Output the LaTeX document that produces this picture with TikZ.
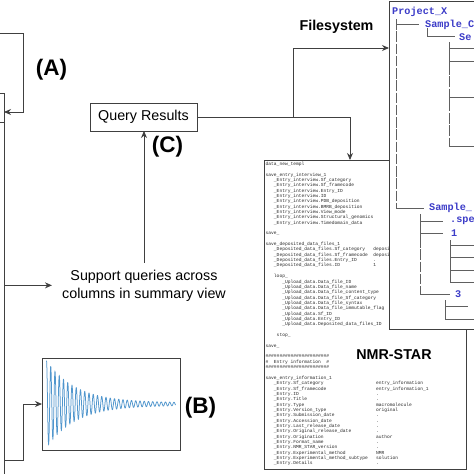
\documentclass[tikz,border=0pt]{standalone}
\usepackage{fontspec}
\setmainfont{Liberation Sans}
\newfontfamily\monof{Liberation Mono}
\usetikzlibrary{arrows.meta}
\definecolor{ln}{HTML}{404040}
\definecolor{treeblue}{RGB}{60,60,200}
\definecolor{treeln}{HTML}{606060}
\definecolor{fidblue}{RGB}{80,150,205}
\definecolor{nmrtxt}{HTML}{2A2A2A}
\newlength\cw
\setlength\cw{2.76pt}
\newcommand\ind[1]{\hspace*{#1\cw}}
\newcommand\kv[3]{\makebox[#1\cw][l]{#2}#3}
\newcommand\hashline{\#\#\#\#\#\#\#\#\#\#\#\#\#\#\#\#\#\#\#\#\#\#\#}
\begin{document}
\begin{tikzpicture}[x=1pt,y=-1pt,
  box/.style={draw=ln, line width=1pt, fill=white, inner sep=0pt, outer sep=0pt},
  conn/.style={draw=ln, line width=0.9pt},
  arr/.style={conn, -{Stealth[length=7pt,width=6pt]}},
  lbl/.style={font=\fontsize{22.5}{26}\selectfont\bfseries, inner sep=0pt},
  ttl/.style={font=\fontsize{14.3}{17}\selectfont\bfseries, inner sep=0pt},
  tl/.style={draw=treeln, line width=0.9pt},
  tld/.style={tl, dash pattern=on 10.5pt off 1.75pt},
  treetext/.style={font=\monof\bfseries\fontsize{10.2}{12}\selectfont, text=treeblue, anchor=west, inner sep=0pt},
]
\useasboundingbox (0,0) rectangle (474,474);
\clip (0,0) rectangle (474,474);

% left (cropped) box
\node[box, anchor=north east, minimum width=60pt, minimum height=29pt] (lb) at (4,93) {};

% Query results
\node[box, minimum width=107pt, minimum height=28pt, font=\fontsize{14.3}{17}\selectfont] (qr) at (143.5,117) {Query Results};

% support text
\node[font=\fontsize{14.3}{18}\selectfont, align=center, inner xsep=10pt, inner ysep=7pt, anchor=north] (supp) at (144,262.5) {Support queries across\\columns in summary view};

% FID box
\node[box, minimum width=138pt, minimum height=92pt] (fid) at (111,404) {};
\draw[fidblue, line width=0.75pt] plot[domain=0:129, samples=1600] ({46.5+\x}, {404 - (42*exp(-\x/29)+1.3)*cos(\x*84.706)});

% NMR-STAR box
\node[box, anchor=north west, minimum width=202pt, minimum height=309pt] (nmr) at (264,160) {};
\node[anchor=north west, inner sep=0pt, align=left, text=nmrtxt, font=\monof\fontsize{4.6}{5.35}\selectfont] (nmrt) at (265.5,161.8) {%
data\_new\_templ\\
\mbox{}\\
save\_entry\_interview\_1\\
\ind3\_Entry\_interview.Sf\_category\\
\ind3\_Entry\_interview.Sf\_framecode\\
\ind3\_Entry\_interview.Entry\_ID\\
\ind3\_Entry\_interview.ID\\
\ind3\_Entry\_interview.PDB\_deposition\\
\ind3\_Entry\_interview.BMRB\_deposition\\
\ind3\_Entry\_interview.View\_mode\\
\ind3\_Entry\_interview.Structural\_genomics\\
\ind3\_Entry\_interview.Timedomain\_data\\
\mbox{}\\
save\_\\
\mbox{}\\
save\_deposited\_data\_files\_1\\
\ind3\kv{36}{\_Deposited\_data\_files.Sf\_category}{deposited\_data\_files}\\
\ind3\kv{36}{\_Deposited\_data\_files.Sf\_framecode}{deposited\_data\_files\_1}\\
\ind3\kv{36}{\_Deposited\_data\_files.Entry\_ID}{.}\\
\ind3\kv{36}{\_Deposited\_data\_files.ID}{1}\\
\mbox{}\\
\ind3loop\_\\
\ind6\_Upload\_data.Data\_file\_ID\\
\ind6\_Upload\_data.Data\_file\_name\\
\ind6\_Upload\_data.Data\_file\_content\_type\\
\ind6\_Upload\_data.Data\_file\_Sf\_category\\
\ind6\_Upload\_data.Data\_file\_syntax\\
\ind6\_Upload\_data.Data\_file\_immutable\_flag\\
\ind6\_Upload\_data.Sf\_ID\\
\ind6\_Upload\_data.Entry\_ID\\
\ind6\_Upload\_data.Deposited\_data\_files\_ID\\
\mbox{}\\
\ind4stop\_\\
\mbox{}\\
save\_\\
\mbox{}\\
\hashline\\
\#\ind2Entry information\ind2\#\\
\hashline\\
\mbox{}\\
save\_entry\_information\_1\\
\ind3\kv{37}{\_Entry.Sf\_category}{entry\_information}\\
\ind3\kv{37}{\_Entry.Sf\_framecode}{entry\_information\_1}\\
\ind3\kv{37}{\_Entry.ID}{.}\\
\ind3\kv{37}{\_Entry.Title}{.}\\
\ind3\kv{37}{\_Entry.Type}{macromolecule}\\
\ind3\kv{37}{\_Entry.Version\_type}{original}\\
\ind3\kv{37}{\_Entry.Submission\_date}{.}\\
\ind3\kv{37}{\_Entry.Accession\_date}{.}\\
\ind3\kv{37}{\_Entry.Last\_release\_date}{.}\\
\ind3\kv{37}{\_Entry.Original\_release\_date}{.}\\
\ind3\kv{37}{\_Entry.Origination}{author}\\
\ind3\kv{37}{\_Entry.Format\_name}{.}\\
\ind3\kv{37}{\_Entry.NMR\_STAR\_version}{.}\\
\ind3\kv{37}{\_Entry.Experimental\_method}{NMR}\\
\ind3\kv{37}{\_Entry.Experimental\_method\_subtype}{solution}\\
\ind3\kv{37}{\_Entry.Details}{.}};
\node[ttl] (lnmr) at (394,354.5) {NMR-STAR};

% Filesystem box
\node[box, anchor=north west, minimum width=150pt, minimum height=328pt] (fs) at (389,1) {};
\node[treetext] (p0) at (392,12) {Project\_X};
\node[treetext] (p1) at (425,24.5) {Sample\_C};
\node[treetext] (p2) at (459,37) {Se};
\node[treetext] (p3) at (429,208) {Sample\_};
\node[treetext] (p4) at (450,220.5) {.spe};
\node[treetext] (p5) at (451,233) {1};
\node[treetext] (p6) at (455,294.5) {3};
% tree lines
\draw[tld] (396,19) -- (396,208);
\draw[tl] (396,20) -- (396,30);
\draw[tl] (396,24.5) -- (419,24.5);
\draw[tl] (396,208) -- (424,208);
\draw[tl] (427,28) -- (427,36.5) -- (455,36.5);
\draw[tl] (449,42) -- (449,64);
\draw[tld] (449,64) -- (449,146.5);
\draw[tl] (449,93) -- (449,101);
\draw[tl] (449,140) -- (449,146.5);
\draw[tl] (449,48.5) -- (480,48.5);
\draw[tl] (449,61) -- (480,61);
\draw[tl] (449,97.5) -- (480,97.5);
\draw[tl] (449,146.5) -- (480,146.5);
\draw[tl] (420,214) -- (420,237);
\draw[tld] (420,237) -- (420,294.5);
\draw[tl] (420,288) -- (420,294.5);
\draw[tl] (420,221) -- (443,221);
\draw[tl] (420,233) -- (443,233);
\draw[tl] (420,294.5) -- (450,294.5);
\draw[tl] (450,240) -- (450,282.5);
\draw[tl] (450,245.5) -- (480,245.5);
\draw[tl] (450,257.5) -- (480,257.5);
\draw[tl] (450,270) -- (480,270);
\draw[tl] (450,282.5) -- (480,282.5);
\draw[tl] (445,300) -- (445,319);
\draw[tl] (445,306.5) -- (468,306.5);
\draw[tl] (445,319) -- (480,319);

% labels
\node[ttl] (lfs) at (336.5,26.5) {Filesystem};
\node[lbl] (la) at (51.5,69.5) {(A)};
\node[lbl] (lc) at (167.5,147) {(C)};
\node[lbl] (lbb) at (200.5,407.5) {(B)};

% connectors
\coordinate (a0) at (-2,33);
\coordinate (ain) at (4,112);
\draw[arr] (a0) -| ([xshift=19pt]ain) -- (ain);
\coordinate (bot) at (4,480);
\draw[conn] (lb.south east) -- (bot);
\draw[arr] (lb.south east |- supp.west) -- (supp.west);
\coordinate (b1) at (4,460);
\draw[arr] (b1) -- ++(19,0) |- (fid.west);
\draw[arr] (supp.north) -- (supp.north |- qr.south);
\coordinate (j1) at (293,117);
\coordinate (j2) at (350,117);
\coordinate (fsin) at (389,48);
\draw[conn] (qr.east) -- (j2);
\draw[arr] (j2) -- (j2 |- nmr.north);
\draw[arr] (j1) |- (fsin);
\end{tikzpicture}
\end{document}
